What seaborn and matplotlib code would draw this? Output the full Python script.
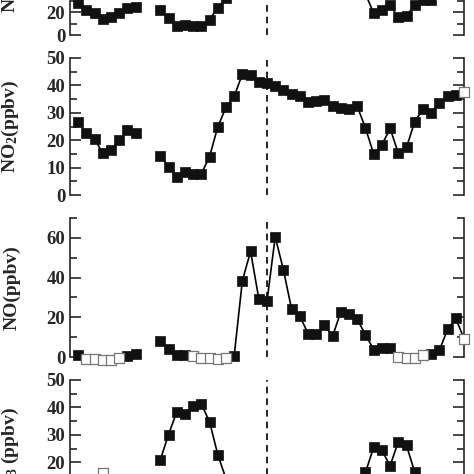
import numpy as np
import pandas as pd
import matplotlib
matplotlib.use('Agg')
import matplotlib.pyplot as plt
from matplotlib.ticker import MultipleLocator
import seaborn as sns

sns.set_style('ticks')
plt.rcParams['font.family'] = ['Liberation Serif', 'DejaVu Serif']
plt.rcParams['font.weight'] = 'bold'
plt.rcParams['mathtext.fontset'] = 'custom'
plt.rcParams['mathtext.rm'] = 'Liberation Serif:bold'
plt.rcParams['mathtext.it'] = 'Liberation Serif:bold'

nan = np.nan
hours = np.arange(48)

nox = [27.8, 22, 19.5, 14, 15.5, 19.5, 24, 24.5, nan, nan,
       22, 15, 8, 9, 8, 8, 13.5, 24, 32, 36.5,
       83, 97, 71, 69, 100, 82, 61, 57, 46, 46,
       51, 43, 54, 53, 51, 36, 19, 22, 26, 15.5,
       17, 26, 31, 31, 37, 50, 56, 47]
no2 = [26.6, 22.6, 20.4, 15.2, 16.5, 20.1, 23.8, 22.8, nan, nan,
       14.3, 10.4, 6.5, 8.3, 7.6, 7.7, 14, 24.8, 32, 36,
       44.1, 43.8, 41.3, 40.9, 39.9, 38.4, 37, 36, 33.8, 34.4,
       34.8, 32.6, 31.6, 31.3, 32.3, 24.4, 14.9, 18.3, 24.3, 15.2,
       17.4, 26.8, 31.3, 30.1, 33.5, 36, 36.6, 37.6]
no = [1.2, -1.2, -1.2, -1.7, -1.4, -0.5, 0.5, 1.7, nan, nan,
      7.9, 4.2, 1.2, 0.8, 0.3, -0.3, -0.7, -0.8, -0.5, 0.5,
      38.5, 53.2, 29.4, 28.2, 60.5, 43.9, 24, 20.6, 11.8, 11.8,
      15.9, 10.6, 22.8, 21.6, 18.9, 11.3, 3.7, 4.6, 4.6, 0,
      -0.5, -0.3, 0.8, 1.7, 3.4, 13.9, 19.4, 9.3]
o3 = [12, 13, 13, 16, 12, 10, 9, 8, nan, nan,
      20.8, 30.1, 38.3, 37.6, 40.4, 41.2, 34.8, 22.8, 14, 9,
      5, 3, 2, 2, 1, 2, 3, 4, 5, 6,
      7, 8, 9, 10, 12, 16.3, 25.5, 24.3, 18.7, 27.5,
      26.1, 16.3, 12, 9, 7, 5, 4, 3]

no2_open = [47]
no_open = [1, 2, 3, 4, 5, 14, 15, 16, 17, 18, 39, 40, 41, 42, 47]
o3_open = [3]

df = pd.DataFrame({'hour': hours, 'NOx': nox, 'NO2': no2, 'NO': no, 'O3': o3})

fig = plt.figure(figsize=(4.74, 4.74), dpi=100)
H = 474.0
L, W = 70 / H, 394 / H

def panel(top, bottom, col, ylim, major, minor, label, open_idx):
    ax = fig.add_axes([L, 1 - bottom / H, W, (bottom - top) / H])
    ax.plot(df['hour'], df[col], color='black', lw=1.2, zorder=2)
    mask = df['hour'].isin(open_idx)
    sns.scatterplot(data=df[~mask], x='hour', y=col, ax=ax, marker='s', s=50,
                    color='#111111', edgecolor='#111111', linewidth=0.5, zorder=3, clip_on=False)
    sns.scatterplot(data=df[mask], x='hour', y=col, ax=ax, marker='s', s=45,
                    facecolor='white', edgecolor='#777777', linewidth=0.9, zorder=3, clip_on=False)
    ax.set_xlim(-1, 47)
    ax.set_ylim(*ylim)
    ax.yaxis.set_major_locator(MultipleLocator(major))
    ax.yaxis.set_minor_locator(MultipleLocator(minor))
    ax.tick_params(axis='y', which='both', direction='in', left=True, right=True, labelsize=13.5)
    ax.tick_params(axis='y', which='major', length=8, width=1.2)
    ax.tick_params(axis='y', which='minor', length=5, width=1.2)
    ax.set_xticks([])
    for s in ['top', 'bottom']:
        ax.spines[s].set_visible(False)
    for s in ['left', 'right']:
        ax.spines[s].set_linewidth(1.2)
    ax.set_xlabel('')
    ax.set_ylabel(label, fontsize=14, fontweight='bold')
    ax.yaxis.set_label_coords(-0.125, 0.5)
    ax.axvline(23, color='black', ls=(0, (4, 3)), lw=1.2, zorder=1)
    return ax

panel(-102, 35, 'NOx', (0, 120), 20, 10, 'NO$_x$(ppbv)', [])
panel(58, 195, 'NO2', (0, 50), 10, 5, 'NO$_2$(ppbv)', no2_open)
panel(218, 357, 'NO', (0, 70), 20, 10, 'NO(ppbv)', no_open)
panel(380, 517, 'O3', (0, 50), 10, 5, 'O$_3$ (ppbv)', o3_open)

fig.savefig('out.png', dpi=100)
